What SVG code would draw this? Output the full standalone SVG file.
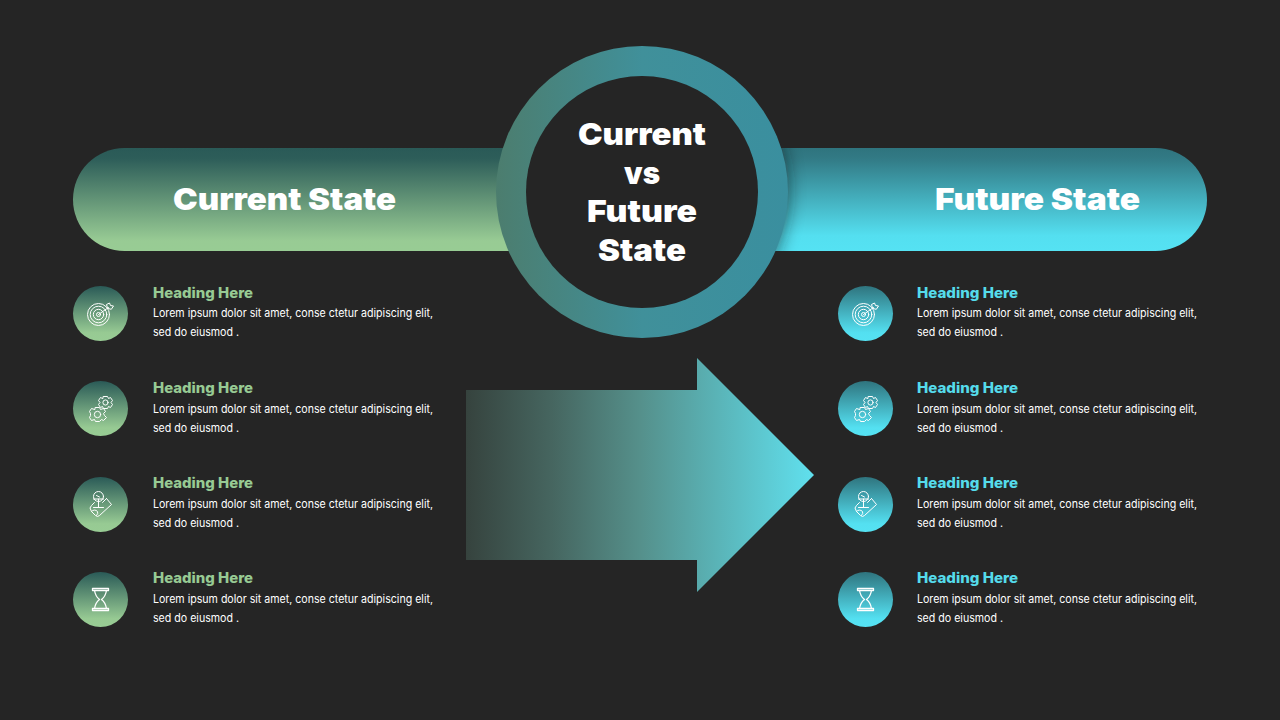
<svg xmlns="http://www.w3.org/2000/svg" width="1280" height="720" viewBox="0 0 1280 720">
<style>
text{font-family:Inter,"Liberation Sans",sans-serif}
.h{font-size:14.500px;font-weight:800}
.g{fill:#97ca93}
.c{fill:#55dbeb}
.b{font-size:11.300px;fill:#fff}
.t{font-size:30px;font-weight:900;fill:#fff;text-anchor:middle}
.ic{fill:none;stroke:#fff;stroke-width:1;stroke-linejoin:round;stroke-linecap:round}
</style>
<defs>
<linearGradient id="gb" x1="0" y1="0" x2="0" y2="1"><stop offset="0" stop-color="#2a5a57"/><stop offset=".1" stop-color="#2d5d59"/><stop offset=".9" stop-color="#98cb94"/><stop offset="1" stop-color="#98cc94"/></linearGradient>
<linearGradient id="cb" x1="0" y1="0" x2="0" y2="1"><stop offset="0" stop-color="#2f747e"/><stop offset=".1" stop-color="#327a85"/><stop offset=".85" stop-color="#54dff0"/><stop offset="1" stop-color="#55e2f3"/></linearGradient>
<linearGradient id="gc" x1="0" y1="0" x2="0" y2="1"><stop offset="0" stop-color="#2a5a57"/><stop offset=".85" stop-color="#97ca93"/><stop offset="1" stop-color="#98cc94"/></linearGradient>
<linearGradient id="cc" x1="0" y1="0" x2="0" y2="1"><stop offset="0" stop-color="#2f747e"/><stop offset=".85" stop-color="#54e0f1"/><stop offset="1" stop-color="#55e2f3"/></linearGradient>
<linearGradient id="ring" x1="0" y1="0" x2="1" y2="0"><stop offset="0" stop-color="#4c7d6e"/><stop offset=".5" stop-color="#40909a"/><stop offset="1" stop-color="#3a8f9f"/></linearGradient>
<linearGradient id="arr" gradientUnits="userSpaceOnUse" x1="466" y1="0" x2="814" y2="0"><stop offset="0" stop-color="#36433e"/><stop offset=".25" stop-color="#466660"/><stop offset=".5" stop-color="#55908b"/><stop offset="1" stop-color="#60e0ee"/></linearGradient>
<filter id="sh" x="-20%" y="-20%" width="140%" height="140%"><feGaussianBlur stdDeviation="8"/></filter>
<clipPath id="rightbar"><rect x="740" y="148" width="467" height="103"/></clipPath>
<symbol id="target" overflow="visible"><g class="ic"><circle cx="-2" cy="1" r="11"/><circle cx="-2" cy="1" r="8.300"/><circle cx="-2" cy="1" r="5.200"/><circle cx="-2" cy="1" r="2"/><path d="M-2 1 L8 -6 M7 -5.500 L6 -9 L9 -10.500 L10 -8 L13 -7.500 L11 -4.500 Z"/></g></symbol>
<symbol id="gears" overflow="visible"><g class="ic"><circle cx="-3" cy="6" r="3.200"/><path d="M-5 -1 L-1 -1 L0 1 L3 0 L5 3 L3 5 L4 7 L6 9 L3 12 L1 11 L-1 13 L-5 13 L-6 11 L-9 12 L-11 9 L-10 7 L-10 5 L-11 3 L-9 0 L-6 1 Z"/><circle cx="5" cy="-6" r="2.600"/><path d="M3 -12 L7 -12 L8 -10 L10 -11 L12 -8 L10.500 -6 L12 -4 L10 -1 L8 -2 L7 0 L3 0 L2 -2 L0 -1 L-2 -4 L-0.500 -6 L-2 -8 L0 -11 L2 -10 Z"/></g></symbol>
<symbol id="plan" overflow="visible"><g class="ic"><circle cx="-2" cy="-8" r="5"/><path d="M-7 -5.500 L3 -5.500 M-2 -5.500 L-2 3 M-4 -9 L-1 -7.500 M6 -6 L11 0 L-1 11 Q-3 13 -5 11 L-9 7 Q-12 3 -9 1 L-6 -2 M-9 7 Q-6 4 -3 7 Q-2 9 -4 11 M-7 3 L3 3 M6 -6 L2 -2"/></g></symbol>
<symbol id="hour" overflow="visible"><g class="ic" style="stroke-width:1.300"><path d="M-8 -11 H8 V-9 H-8 Z M-8 9 H8 V11 H-8 Z M-6 -9 Q-5 -3 -1 0 Q-5 3 -6 9 M6 -9 Q5 -3 1 0 Q5 3 6 9"/></g></symbol>
</defs>
<rect id="background" width="1280" height="720" fill="#252525"/>
<g id="current-bar"><path d="M124.500 148 H600 V251 H124.500 A51.500 51.500 0 0 1 124.500 148 Z" fill="url(#gb)"/><text class="t" x="284.500" y="210" textLength="223" lengthAdjust="spacingAndGlyphs">Current State</text></g>
<g id="future-bar"><path d="M700 148 H1155.500 A51.500 51.500 0 0 1 1155.500 251 H700 Z" fill="url(#cb)"/><text class="t" x="1037.500" y="210" textLength="205" lengthAdjust="spacingAndGlyphs">Future State</text></g>
<g id="center">
<g clip-path="url(#rightbar)"><circle cx="642" cy="192" r="148" fill="#101818" opacity=".5" filter="url(#sh)"/></g>
<circle cx="642" cy="192" r="146" fill="url(#ring)"/>
<circle cx="642" cy="192" r="116" fill="#252525"/>
<text class="t" x="642" y="145" textLength="128" lengthAdjust="spacingAndGlyphs">Current</text>
<text class="t" x="642" y="184" textLength="36" lengthAdjust="spacingAndGlyphs">vs</text>
<text class="t" x="642" y="222" textLength="110" lengthAdjust="spacingAndGlyphs">Future</text>
<text class="t" x="642" y="261" textLength="88" lengthAdjust="spacingAndGlyphs">State</text>
</g>
<g id="connectors"><path id="arrow" d="M466 390 H697 V358 L814 475 L697 592 V560 H466 Z" fill="url(#arr)"/></g>

<g id="current-1"><circle cx="100.500" cy="313.500" r="27.500" fill="url(#gc)"/><use href="#target" x="100.500" y="313.500"/><text class="h g" x="153" y="298" textLength="100" lengthAdjust="spacingAndGlyphs">Heading Here</text><text class="b" x="153" y="317" textLength="280" lengthAdjust="spacingAndGlyphs">Lorem ipsum dolor sit amet, conse ctetur adipiscing elit,</text><text class="b" x="153" y="336" textLength="86" lengthAdjust="spacingAndGlyphs">sed do eiusmod .</text></g>
<g id="current-2"><circle cx="100.500" cy="408.500" r="27.500" fill="url(#gc)"/><use href="#gears" x="100.500" y="408.500"/><text class="h g" x="153" y="393" textLength="100" lengthAdjust="spacingAndGlyphs">Heading Here</text><text class="b" x="153" y="413" textLength="280" lengthAdjust="spacingAndGlyphs">Lorem ipsum dolor sit amet, conse ctetur adipiscing elit,</text><text class="b" x="153" y="432" textLength="86" lengthAdjust="spacingAndGlyphs">sed do eiusmod .</text></g>
<g id="current-3"><circle cx="100.500" cy="504.500" r="27.500" fill="url(#gc)"/><use href="#plan" x="100.500" y="504.500"/><text class="h g" x="153" y="488" textLength="100" lengthAdjust="spacingAndGlyphs">Heading Here</text><text class="b" x="153" y="508" textLength="280" lengthAdjust="spacingAndGlyphs">Lorem ipsum dolor sit amet, conse ctetur adipiscing elit,</text><text class="b" x="153" y="527" textLength="86" lengthAdjust="spacingAndGlyphs">sed do eiusmod .</text></g>
<g id="current-4"><circle cx="100.500" cy="599.500" r="27.500" fill="url(#gc)"/><use href="#hour" x="100.500" y="599.500"/><text class="h g" x="153" y="583" textLength="100" lengthAdjust="spacingAndGlyphs">Heading Here</text><text class="b" x="153" y="603" textLength="280" lengthAdjust="spacingAndGlyphs">Lorem ipsum dolor sit amet, conse ctetur adipiscing elit,</text><text class="b" x="153" y="622" textLength="86" lengthAdjust="spacingAndGlyphs">sed do eiusmod .</text></g>

<g id="future-1"><circle cx="865.500" cy="313.500" r="27.500" fill="url(#cc)"/><use href="#target" x="865.500" y="313.500"/><text class="h c" x="917" y="298" textLength="101" lengthAdjust="spacingAndGlyphs">Heading Here</text><text class="b" x="917" y="317" textLength="280" lengthAdjust="spacingAndGlyphs">Lorem ipsum dolor sit amet, conse ctetur adipiscing elit,</text><text class="b" x="917" y="336" textLength="86" lengthAdjust="spacingAndGlyphs">sed do eiusmod .</text></g>
<g id="future-2"><circle cx="865.500" cy="408.500" r="27.500" fill="url(#cc)"/><use href="#gears" x="865.500" y="408.500"/><text class="h c" x="917" y="393" textLength="101" lengthAdjust="spacingAndGlyphs">Heading Here</text><text class="b" x="917" y="413" textLength="280" lengthAdjust="spacingAndGlyphs">Lorem ipsum dolor sit amet, conse ctetur adipiscing elit,</text><text class="b" x="917" y="432" textLength="86" lengthAdjust="spacingAndGlyphs">sed do eiusmod .</text></g>
<g id="future-3"><circle cx="865.500" cy="504.500" r="27.500" fill="url(#cc)"/><use href="#plan" x="865.500" y="504.500"/><text class="h c" x="917" y="488" textLength="101" lengthAdjust="spacingAndGlyphs">Heading Here</text><text class="b" x="917" y="508" textLength="280" lengthAdjust="spacingAndGlyphs">Lorem ipsum dolor sit amet, conse ctetur adipiscing elit,</text><text class="b" x="917" y="527" textLength="86" lengthAdjust="spacingAndGlyphs">sed do eiusmod .</text></g>
<g id="future-4"><circle cx="865.500" cy="599.500" r="27.500" fill="url(#cc)"/><use href="#hour" x="865.500" y="599.500"/><text class="h c" x="917" y="583" textLength="101" lengthAdjust="spacingAndGlyphs">Heading Here</text><text class="b" x="917" y="603" textLength="280" lengthAdjust="spacingAndGlyphs">Lorem ipsum dolor sit amet, conse ctetur adipiscing elit,</text><text class="b" x="917" y="622" textLength="86" lengthAdjust="spacingAndGlyphs">sed do eiusmod .</text></g>
</svg>
